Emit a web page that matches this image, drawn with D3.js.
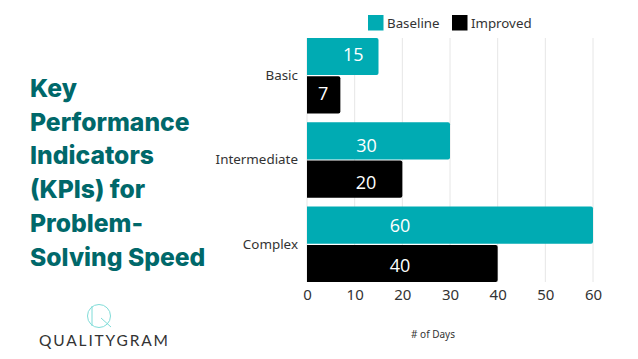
<!DOCTYPE html>
<html>
<head>
<meta charset="utf-8">
<script src="https://cdn.jsdelivr.net/npm/d3@7"></script>
<style>
html, body { margin: 0; padding: 0; background: #fff; }
svg { display: block; }
</style>
</head>
<body>
<div id="chart"></div>
<script>
// chart values
var categories = ["Basic", "Intermediate", "Complex"];
var seriesNames = ["Baseline", "Improved"];
var baseline = [15, 30, 60];
var improved = [7, 20, 40];
var xTicks = [0, 10, 20, 30, 40, 50, 60];
var titleLines = ["Key", "Performance", "Indicators", "(KPIs) for", "Problem-", "Solving Speed"];

var outWidth = 638, outHeight = 359;
var margin = {top: 38, right: 45, bottom: 77, left: 307},
	width = outWidth - margin.left - margin.right,
	height = outHeight - margin.top - margin.bottom;

var colors = {Baseline: "#00abb3", Improved: "#000000"};
var labelFont = "'Noto Sans', sans-serif";

var svg = d3.select("#chart").append("svg")
	.attr("width", outWidth)
	.attr("height", outHeight);

// title on the left
svg.append("g").selectAll("text")
	.data(titleLines)
	.enter().append("text")
	.attr("x", 30)
	.attr("y", function(d, i) { return 97 + i * 33.7; })
	.attr("font-family", "Inter, sans-serif")
	.attr("font-weight", 800)
	.attr("font-size", 24.7)
	.attr("fill", "#00686a")
	.text(function(d) { return d; });

// logo
var logo = svg.append("g");
logo.append("circle")
	.attr("cx", 99).attr("cy", 316).attr("r", 11.5)
	.attr("fill", "none").attr("stroke", "#7fdcd8").attr("stroke-width", 1);
logo.append("line")
	.attr("x1", 92).attr("y1", 306).attr("x2", 92).attr("y2", 326)
	.attr("stroke", "#7fdcd8").attr("stroke-width", 1);
logo.append("line")
	.attr("x1", 101).attr("y1", 318).attr("x2", 111).attr("y2", 327)
	.attr("stroke", "#7fdcd8").attr("stroke-width", 1);
logo.append("text")
	.attr("x", 39).attr("y", 346)
	.attr("font-family", "Lato, sans-serif")
	.attr("font-size", 15.5)
	.attr("letter-spacing", 1.85)
	.attr("fill", "#333")
	.text("QUALITYGRAM");

// scales
var xScale = d3.scaleLinear().domain([0, 60]).range([0, width]);
var yScale = d3.scaleBand().domain(categories).range([0, height]).paddingInner(0.106).paddingOuter(0);
var innerScale = d3.scaleBand().domain(seriesNames).range([0, yScale.bandwidth()]).paddingInner(0.03);

var plot = svg.append("g")
	.attr("transform", "translate(" + margin.left + "," + margin.top + ")");

// grid
plot.selectAll(".grid")
	.data(xTicks)
	.enter().append("line")
	.attr("class", "grid")
	.attr("x1", function(d) { return xScale(d); })
	.attr("x2", function(d) { return xScale(d); })
	.attr("y1", 0)
	.attr("y2", height)
	.attr("stroke", "#e6e6e6")
	.attr("stroke-width", 1);

// bar with rounded right corners
function barPath(w, h) {
	var r = 2;
	var p = d3.path();
	p.moveTo(0, 0);
	p.lineTo(w - r, 0);
	p.arcTo(w, 0, w, r, r);
	p.lineTo(w, h - r);
	p.arcTo(w, h, w - r, h, r);
	p.lineTo(0, h);
	p.closePath();
	return p.toString();
}

// the labels in the picture sit by hand, not centred: x in days, dy in px from bar middle
var labelAt = {
	Basic: {Baseline: [9.7, -1.5], Improved: [3.4, -1]},
	Intermediate: {Baseline: [12.5, 4.5], Improved: [12.4, 3.5]},
	Complex: {Baseline: [19.5, 1], Improved: [19.5, 2.5]}
};

var rows = [];
categories.forEach(function(c, i) {
	rows.push({category: c, series: "Baseline", value: baseline[i]});
	rows.push({category: c, series: "Improved", value: improved[i]});
});

var bars = plot.selectAll(".bar")
	.data(rows)
	.enter().append("g")
	.attr("class", "bar")
	.attr("transform", function(d) {
		return "translate(0," + (yScale(d.category) + innerScale(d.series)) + ")";
	});

bars.append("path")
	.attr("d", function(d) { return barPath(xScale(d.value), innerScale.bandwidth()); })
	.attr("fill", function(d) { return colors[d.series]; });

bars.append("text")
	.attr("x", function(d) { return xScale(labelAt[d.category][d.series][0]); })
	.attr("y", function(d) { return innerScale.bandwidth() / 2 + labelAt[d.category][d.series][1]; })
	.attr("dy", ".35em")
	.attr("text-anchor", "middle")
	.attr("font-family", "'Open Sans', sans-serif")
	.attr("font-size", 18)
	.attr("fill", "#fff")
	.text(function(d) { return d.value; });

// axes
var xAxis = d3.axisBottom(xScale).tickValues(xTicks).tickSize(0).tickPadding(7);
var gx = plot.append("g")
	.attr("transform", "translate(0," + height + ")")
	.call(xAxis);
gx.select(".domain").remove();
gx.selectAll("text")
	.attr("font-family", labelFont)
	.attr("font-size", 15)
	.attr("fill", "#333");

var yAxis = d3.axisLeft(yScale).tickSize(0).tickPadding(9);
var gy = plot.append("g").call(yAxis);
gy.select(".domain").remove();
gy.selectAll("text")
	.attr("font-family", labelFont)
	.attr("font-size", 13.4)
	.attr("fill", "#333");

// axis title
svg.append("text")
	.attr("x", 433)
	.attr("y", 338)
	.attr("text-anchor", "middle")
	.attr("font-family", labelFont)
	.attr("font-size", 10)
	.attr("fill", "#333")
	.text("# of Days");

// legend
var legendX = [368, 452];
var legend = svg.selectAll(".legend")
	.data(seriesNames)
	.enter().append("g")
	.attr("class", "legend")
	.attr("transform", function(d, i) { return "translate(" + legendX[i] + ",15)"; });
legend.append("rect")
	.attr("width", 15.5)
	.attr("height", 15.5)
	.attr("fill", function(d) { return colors[d]; });
legend.append("text")
	.attr("x", 19)
	.attr("y", 8)
	.attr("dy", ".35em")
	.attr("font-family", labelFont)
	.attr("font-size", 13.3)
	.attr("fill", "#333")
	.text(function(d) { return d; });
</script>
</body>
</html>
